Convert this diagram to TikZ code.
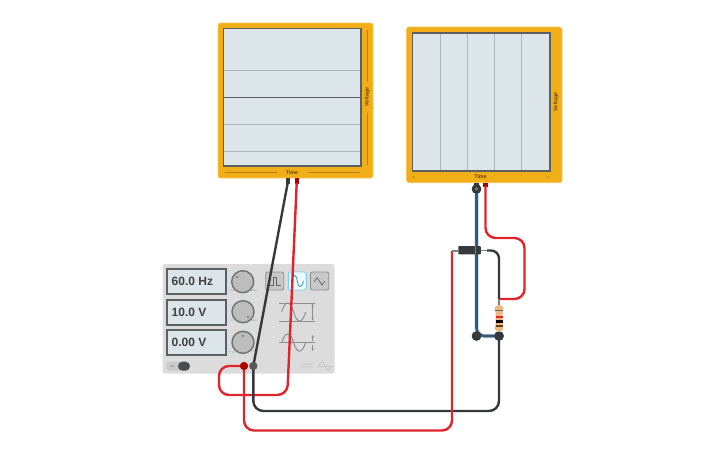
\documentclass[tikz,border=0pt]{standalone}
\usepackage{fontspec}
\setmainfont{Liberation Sans}
\usetikzlibrary{arrows.meta}
\definecolor{scopeor}{HTML}{F2AE17}
\definecolor{scrn}{HTML}{DBE5EA}
\definecolor{scrnb}{HTML}{5B6163}
\definecolor{grid}{HTML}{AEB7BA}
\definecolor{tick}{HTML}{B27F14}
\definecolor{gen}{HTML}{DCDCDC}
\definecolor{wred}{HTML}{E0242B}
\definecolor{wblk}{HTML}{36393B}
\definecolor{wblue}{HTML}{3D5870}
\definecolor{whalo}{HTML}{A9D0EE}
\definecolor{knob}{HTML}{BDBDBD}
\definecolor{btn}{HTML}{C8C8C8}
\definecolor{icon}{HTML}{8E8E8E}
\tikzset{
 x=1pt,y=-1pt,
 orange box/.style={fill=scopeor,draw=scopeor!70!white,line width=.6pt,rounded corners=2.5pt},
 screen/.style={fill=scrn,draw=scrnb,line width=1.6pt},
 glight/.style={draw=grid,line width=.9pt},
 gdark/.style={draw=scrnb,line width=1.1pt},
 ticks/.style={draw=tick,line width=.7pt},
 stxt/.style={font=\bfseries\fontsize{5.3}{5.3}\selectfont,text=black!60!scopeor,inner sep=0pt},
 disp/.style={fill=scrn,draw=scrnb,line width=2pt},
 disptxt/.style={font=\bfseries\fontsize{12}{12}\selectfont,text=black!75,inner sep=0pt,anchor=west},
 knobn/.style={circle,fill=knob,draw=scrnb!90,line width=1.4pt,minimum size=22pt,inner sep=0pt},
 term/.style={circle,fill=wblk,inner sep=0pt,minimum size=9.5pt},
 smallterm/.style={circle,inner sep=0pt,minimum size=8pt},
 wirer/.style={draw=wred,line width=2.4pt,rounded corners=10pt},
 wireb/.style={draw=wblk,line width=2.4pt,rounded corners=10pt},
 bt/.style={draw=icon,fill=btn,line width=.9pt,rounded corners=2pt},
 iconl/.style={draw=icon,line width=.7pt},
 tiny/.style={font=\fontsize{2.5}{3}\selectfont,text=black!45,inner sep=0pt},
}
\begin{document}
\begin{tikzpicture}
\useasboundingbox (0,0) rectangle (725,453);
% left scope
\path[orange box] (218,23) rectangle (373,178);
\path[screen] (223.5,28.5) rectangle (361,166);
\foreach \y in {70.3,124.3,151.3}{\draw[glight] (224.3,\y) -- (360.2,\y);}
\draw[gdark] (224.3,97.3) -- (360.2,97.3);
\draw[ticks] (367.3,30) -- (367.3,82) (367.3,113) -- (367.3,165);
\draw[ticks] (225,172) -- (277,172) (308,172) -- (360,172);
\node[stxt,rotate=90] (v1) at (367.3,97) {Voltage};
\node[stxt] (t1) at (292,172.3) {Time};
\fill[wblk] (285.7,178) rectangle (289.7,183.5);
\fill[red!65!black] (294.7,178) rectangle (298.7,183.5);
\coordinate (s1b) at (287.7,183);
\coordinate (s1r) at (296.7,183);
% right scope
\path[orange box] (406.5,27) rectangle (562,182.7);
\path[screen] (412.3,33) rectangle (550,170.7);
\foreach \x in {440.3,467.3,494.3,521.3}{\draw[glight] (\x,33.8) -- (\x,170);}
\node[stxt,rotate=90] (v2) at (556,102) {Voltage};
\node[stxt] (t2) at (480.5,177) {Time};
\draw[ticks] (413.5,176.3) -- (413.5,177.7) (548.3,176.3) -- (548.3,177.7);
\fill[wblk] (474,182.7) rectangle (479,187);
\fill[red!65!black] (483,182.7) rectangle (488,187);
\coordinate (s2r) at (485.5,186);
% generator
\path[fill=gen,rounded corners=2pt] (162.5,264) rectangle (334.5,373.5);
\draw[white!88!black,line width=.7pt] (162.5,359) -- (334.5,359);
\draw[disp] (166.7,269) rectangle (225.7,294.3);
\draw[disp] (166.7,299.7) rectangle (225.7,325);
\draw[disp] (166.7,329.7) rectangle (225.7,355);
\node[disptxt] (d1) at (171.5,281.8) {60.0 Hz};
\node[disptxt] (d2) at (171.5,312.2) {10.0 V};
\node[disptxt] (d3) at (171.5,342.5) {0.00 V};
\node[knobn] (k1) at (242.7,281.7) {};
\node[knobn] (k2) at (243,311.7) {};
\node[knobn] (k3) at (243,342.3) {};
\fill[black!70] (237,277) circle (.8);
\fill[black!70] (248,317) circle (.8);
\fill[black!70] (243,336) circle (.8);
\node[tiny] (l1) at (232.5,291) {1Hz};
\node[tiny] (l2) at (254,291) {1MHz};
\node[tiny] (l3) at (232,321) {0};
\node[tiny] (l4) at (254.5,321) {10 V};
\node[tiny] (l5) at (231,352) {$-$5 V};
\node[tiny] (l6) at (254.5,352) {5 V};
% wave buttons
\path[bt] (265.7,272) rectangle (283.7,290);
\path[bt,fill=cyan!6!white,draw=cyan!55!white] (288.3,272) rectangle (306.3,290);
\path[bt] (310.5,272) rectangle (328.7,290);
\draw[iconl,black!60] (269,285) -- (273.5,285) -- (273.5,277) -- (276.5,277) -- (276.5,285) -- (281,285);
\draw[cyan!75!black,line width=.8pt] (291.5,281) .. controls (293.5,273.5) and (296.2,273.5) .. (297.3,281) .. controls (298.5,288.5) and (301.5,288.5) .. (303.5,281);
\draw[iconl,black!60] (314,282) -- (317,277.5) -- (322,285) -- (325,281);
% wave icons
\draw[iconl] (279,303.3) -- (315,303.3) (279,321) -- (315,321);
\draw[iconl,line width=1pt] (281.7,312) .. controls (285,300) and (290,300) .. (293.7,312) .. controls (297,324) and (302,324) .. (305.7,312);
\draw[iconl,{Stealth[length=2.5pt,width=2.5pt]}-{Stealth[length=2.5pt,width=2.5pt]}] (312.7,303.8) -- (312.7,320.5);
\draw[iconl] (279,342.7) -- (315,342.7);
\draw[iconl,line width=1pt] (282,342.7) .. controls (285,331) and (290,331) .. (293.7,342.7) .. controls (297,354) and (302,354) .. (305.5,342.7);
\draw[iconl,-{Stealth[length=2.5pt,width=2.5pt]}] (312.7,340.5) -- (312.7,335);
\draw[iconl,-{Stealth[length=2.5pt,width=2.5pt]}] (312.7,345) -- (312.7,351);
% switch
\path[fill=knob!80!white,rounded corners=4.5pt] (166,361.7) rectangle (190,370.7);
\path[fill=wblk!90!white,rounded corners=4.5pt] (178,361.7) rectangle (190,370.7);
\node[tiny,text=black!60] (sw) at (172,366.3) {ON};
\node[tiny,align=center,text=white!72!black] (brand) at (307,366.3) {AUTODESK\\CIRCUITS};
\draw[white!75!black,line width=.6pt] (319,366.3) .. controls (321,360) and (323,360) .. (325,366.3) .. controls (327,372) and (329,372) .. (331,366.3);
\draw[white!78!black,line width=.5pt] (317,366.3) -- (333,366.3);
% terminals
\node[smallterm,fill=red!70!black] (gr) at (244,366) {};
\node[smallterm,fill=wblk!85!white] (gb) at (253.3,366) {};
\node[term] (s2b) at (476.5,189) {};
\node[term] (a) at (476.5,336) {};
\node[term] (b) at (499,336) {};
\coordinate (dl) at (452,251);
\coordinate (dr) at (487,250.5);
\coordinate (rt) at (499,299);
% wires
\draw[wireb] (s1b) -- (gb.center);
\draw[wirer] (s1r) -- (287.3,395) -- (219,395) -- (219,366) -- (gr.center);
\draw[wireb] (gb.center) -- (253.3,411) -- (499,411) -- (b.center);
\draw[wirer] (gr.center) -- (244,430.5) -- (452,430.5) -- (dl);
\draw[wirer] (s2r) -- (485.5,238) -- (524.5,238) -- (524.5,299) -- (rt);
\draw[wireb,rounded corners=8pt] (dr) -- (499,250.5) -- (rt);
\draw[draw=whalo,line width=4pt,rounded corners=8pt] (s2b.center) -- (476.5,336) -- (b.center);
\draw[draw=wblue,line width=2.6pt,rounded corners=8pt] (s2b.center) -- (476.5,336) -- (b.center);
\node[term] at (s2b) {};
\fill[black!55] (476.5,189) circle (1.8);
\node[term] at (a) {};
\node[term] at (b) {};
\node[smallterm,fill=red!70!black] at (gr) {};
\node[smallterm,fill=wblk!85!white] at (gb) {};
% diode
\draw[gray,line width=1.2pt] (452,251) -- (458,251) (481,250.5) -- (487,250.5);
\node[fill=wblk,minimum width=22.5pt,minimum height=8.4pt,inner sep=0pt,rounded corners=.8pt] (diode) at (469.5,250.2) {};
\fill[gray] (474.5,246) rectangle (476,254.4);
% resistor
\draw[gray,line width=1.2pt] (499,299) -- (499,306);
\path[fill=black!12!orange!50!white,draw=none] (499,305) .. controls (502,305) and (503.5,307) .. (503.5,309) -- (502.5,312) -- (502.5,325) -- (503.5,328) .. controls (503.5,330) and (501,331) .. (499,332) .. controls (497,331) and (494.5,330) .. (494.5,328) -- (495.5,325) -- (495.5,312) -- (494.5,309) .. controls (494.5,307) and (496,305) .. (499,305) -- cycle;
\fill[black!60] (495,310) rectangle (503,310.8);
\fill[wred] (495.5,315.5) rectangle (502.5,318);
\fill[black] (495.5,320) rectangle (502.5,322.5);
\fill[black!50!brown] (495.5,324.5) rectangle (502.5,327);
\end{tikzpicture}
\end{document}
